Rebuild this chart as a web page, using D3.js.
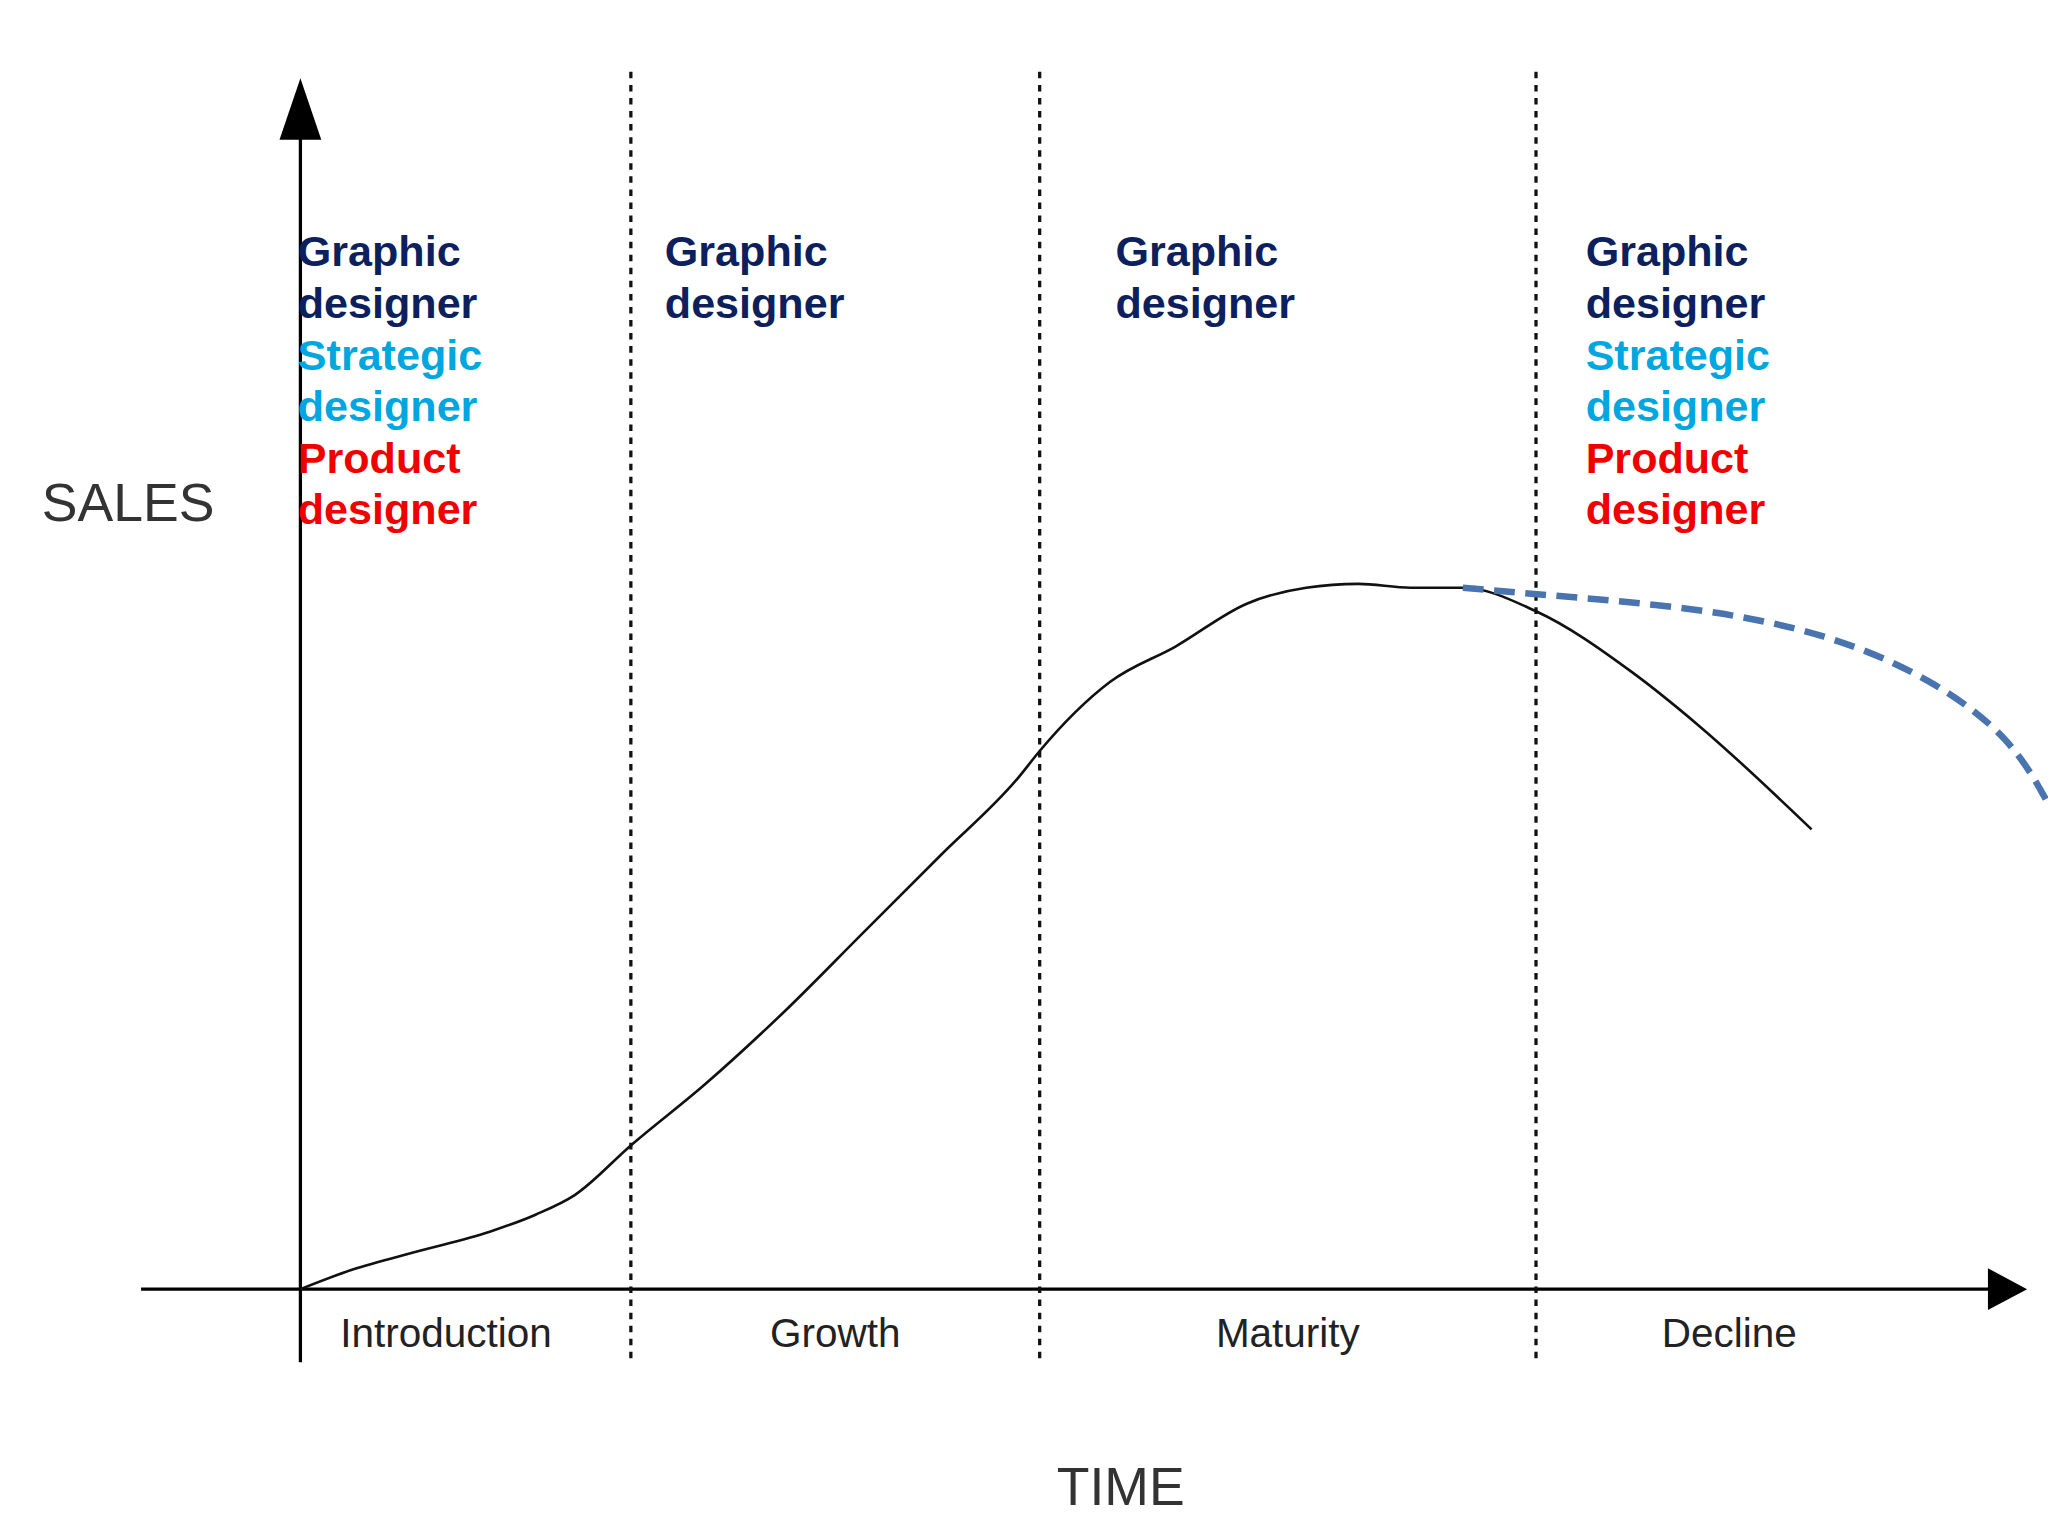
<!DOCTYPE html>
<html><head><meta charset="utf-8">
<script src="https://cdn.jsdelivr.net/npm/d3@7"></script>
<style>body{margin:0;background:#fff}svg{display:block}</style>
</head><body>
<svg id="chart" width="2048" height="1536" viewBox="0 0 1568 1176"></svg>
<script>
// Data (time units from origin, sales units from baseline)
const phases = ["Introduction", "Growth", "Maturity", "Decline"];
const phaseBounds = [0, 253, 566, 946, 1322];
const salesT = [0, 40, 90, 145, 180, 210, 253, 310, 370, 430, 490, 550, 566, 620, 670, 725, 770, 810, 850, 890, 946, 1020, 1070, 1157];
const salesV = [0, 15, 29, 44, 57, 72, 110, 157, 212, 272, 332, 392, 412, 465, 492, 525, 537, 540, 537, 537, 519, 472, 432, 352];
const altT = [890, 946, 1070, 1170, 1250, 1310, 1338];
const altV = [537, 532, 522, 502, 467, 422, 372];
const roleCols = [
  ["Graphic", "designer", "Strategic", "designer", "Product", "designer"],
  ["Graphic", "designer"],
  ["Graphic", "designer"],
  ["Graphic", "designer", "Strategic", "designer", "Product", "designer"]
];
const roleColX = [228, 509, 854, 1214];
const roleColor = ["#0d1f5c", "#0d1f5c", "#00a6e0", "#00a6e0", "#f00000", "#f00000"];

const svg = d3.select("#chart");
const x = d3.scaleLinear().domain([0, 1322]).range([230, 1552]);
const y = d3.scaleLinear().domain([0, 927]).range([987, 60]);

// clip for the dashed line running off the right edge
svg.append("clipPath").attr("id", "clip").append("rect").attr("width", 1568).attr("height", 1176);

// axes
svg.append("line").attr("x1", 108).attr("x2", x(1300)).attr("y1", y(0)).attr("y2", y(0)).attr("stroke", "#000").attr("stroke-width", 2.5);
svg.append("path").attr("d", `M${x(1322)},${y(0)} L${x(1292)},${y(0) - 16} L${x(1292)},${y(0) + 16} Z`).attr("fill", "#000");
svg.append("line").attr("x1", x(0)).attr("x2", x(0)).attr("y1", 1043).attr("y2", 90).attr("stroke", "#000").attr("stroke-width", 2.5);
svg.append("path").attr("d", `M${x(0)},${y(927)} L${x(0) - 16},${y(880)} L${x(0) + 16},${y(880)} Z`).attr("fill", "#000");

// phase dividers
svg.selectAll(".div").data(phaseBounds.slice(1, 4)).join("line")
  .attr("x1", d => x(d)).attr("x2", d => x(d)).attr("y1", 55).attr("y2", 1040)
  .attr("stroke", "#111").attr("stroke-width", 2.5).attr("stroke-dasharray", "5,5");

// phase labels
svg.selectAll(".ph").data(phases).join("text")
  .attr("x", (d, i) => x((phaseBounds[i] + phaseBounds[i + 1]) / 2) - (i === 3 ? 40 : 0) + (i === 0 ? -15 : 0))
  .attr("y", 1031).attr("text-anchor", "middle")
  .attr("font-family", "Liberation Sans, Arial").attr("font-size", 31).attr("fill", "#222").text(d => d);

// sales curve
const line = d3.line().x(d => x(d[0])).y(d => y(d[1])).curve(d3.curveMonotoneX);
svg.append("path").datum(salesT.map((t, i) => [t, salesV[i]])).attr("d", line)
  .attr("fill", "none").attr("stroke", "#111").attr("stroke-width", 2);
svg.append("path").datum(altT.map((t, i) => [t, altV[i]]))
  .attr("d", d3.line().x(d => x(d[0])).y(d => y(d[1])).curve(d3.curveBasis))
  .attr("clip-path", "url(#clip)")
  .attr("fill", "none").attr("stroke", "#4a74b0").attr("stroke-width", 5).attr("stroke-dasharray", "16,8");

// role text
roleCols.forEach((col, c) => {
  svg.selectAll(".r" + c).data(col).join("text")
    .attr("x", roleColX[c]).attr("y", (d, i) => 204 + i * 39.5)
    .attr("font-family", "Liberation Sans, Arial").attr("font-weight", "bold").attr("font-size", 33)
    .attr("fill", (d, i) => roleColor[i]).text(d => d);
});

// axis titles
svg.append("text").attr("x", 32).attr("y", 399).attr("font-family", "Liberation Sans, Arial")
  .attr("font-size", 41).attr("fill", "#333").text("SALES");
svg.append("text").attr("x", 858).attr("y", 1152).attr("text-anchor", "middle").attr("font-family", "Liberation Sans, Arial")
  .attr("font-size", 41).attr("fill", "#333").text("TIME");
</script>
</body></html>
